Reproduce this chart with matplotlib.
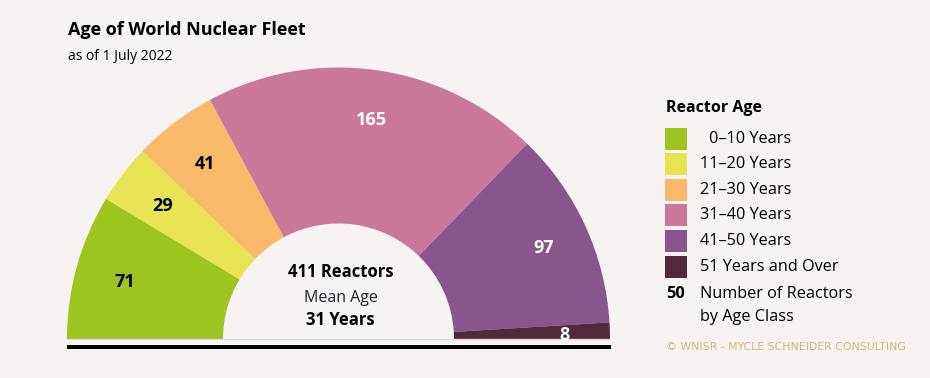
import matplotlib.pyplot as plt
from matplotlib.patches import Wedge, Rectangle
import numpy as np

plt.rcParams['font.family'] = ['Open Sans', 'DejaVu Sans']

categories = ['0\u201310 Years', '11\u201320 Years', '21\u201330 Years',
              '31\u201340 Years', '41\u201350 Years', '51 Years and Over']
reactors = [71, 29, 41, 165, 97, 8]
colors = ['#9dc41f', '#e8e354', '#f9b96a', '#c97899', '#88558c', '#52283b']
label_colors = ['black', 'black', 'black', 'white', 'white', 'white']
total = sum(reactors)
mean_age = 31

bg = '#f7f3f2'
fig = plt.figure(figsize=(9.3, 3.78), dpi=100, facecolor=bg)
ax = fig.add_axes([0, 0, 1, 1])
ax.set_xlim(0, 930)
ax.set_ylim(0, 378)
ax.axis('off')

H = 378
cx, cy = 338.5, H - 339
R, r_in = 271.5, 115.5

theta = 180.0
for val, col, lc in zip(reactors, colors, label_colors):
    span = 180.0 * val / total
    ax.add_patch(Wedge((cx, cy), R, theta - span, theta, width=R - r_in,
                       facecolor=col, edgecolor='none'))
    mid = np.radians(theta - span / 2)
    rl = 224
    ax.text(cx + rl * np.cos(mid) + 2, cy + rl * np.sin(mid) - 3, str(val),
            ha='center', va='center', fontsize=13, fontweight='bold', color=lc)
    theta -= span

# baseline
ax.plot([cx - R, cx + R], [cy, cy], color='#dddad9', lw=1, solid_capstyle='butt')
ax.add_patch(Rectangle((cx - R, H - 349), 2 * R + 1, 4.5, facecolor='black', edgecolor='none'))

# center text
ax.text(cx + 2, H - 272, f'{total} Reactors', ha='center', va='center',
        fontsize=12, fontweight='bold', color='black')
ax.text(cx + 2, H - 298, 'Mean Age', ha='center', va='center',
        fontsize=11.5, color='#222233')
ax.text(cx + 2, H - 320, f'{mean_age} Years', ha='center', va='center',
        fontsize=12, fontweight='bold', color='black')

# titles
ax.text(68, H - 30, 'Age of World Nuclear Fleet', ha='left', va='center',
        fontsize=13, fontweight='bold', color='black')
ax.text(68, H - 57, 'as of 1 July 2022', ha='left', va='center',
        fontsize=10, color='black')

# legend
ax.text(666, H - 108, 'Reactor Age', ha='left', va='center',
        fontsize=11.5, fontweight='bold', color='black')
row_y = [139, 164, 190, 215, 241, 267]
for i, (cat, col) in enumerate(zip(categories, colors)):
    y = H - row_y[i]
    ax.add_patch(Rectangle((665, y - 11), 22, 22, facecolor=col, edgecolor='none'))
    tx = 709 if i == 0 else 700
    ax.text(tx, y, cat, ha='left', va='center', fontsize=11.7, color='black')
ax.text(666, H - 294, '50', ha='left', va='center', fontsize=11.7,
        fontweight='bold', color='black')
ax.text(700, H - 294, 'Number of Reactors', ha='left', va='center',
        fontsize=11.7, color='black')
ax.text(700, H - 317, 'by Age Class', ha='left', va='center',
        fontsize=11.7, color='black')

ax.text(666, H - 347, '\u00a9 WNISR - MYCLE SCHNEIDER CONSULTING', ha='left',
        va='center', fontsize=7.8, color='#d2b47a', family='DejaVu Sans')

fig.savefig('out.png', dpi=100, facecolor=bg)
